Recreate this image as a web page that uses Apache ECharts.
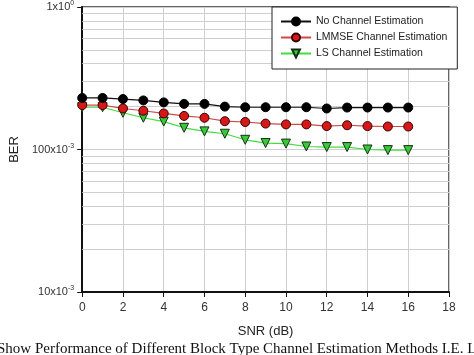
<!DOCTYPE html>
<html>
<head>
    <meta charset="utf-8">
    <title>BER vs SNR</title>
    <script src="https://cdn.jsdelivr.net/npm/echarts@6/dist/echarts.min.js"></script>
    <style>
        html, body { margin: 0; padding: 0; background: #fff; }
        #main { width: 474px; height: 355px; }
    </style>
</head>
<body>
<div id="main"></div>
<script>
// SNR values (dB)
const snr = [0, 1, 2, 3, 4, 5, 6, 7, 8, 9, 10, 11, 12, 13, 14, 15, 16];

// BER
const noEst = [0.230, 0.230, 0.226, 0.221, 0.214, 0.209, 0.209, 0.200, 0.198, 0.198, 0.198, 0.198, 0.194, 0.197, 0.197, 0.197, 0.197];
const lmmse = [0.205, 0.205, 0.194, 0.187, 0.179, 0.172, 0.167, 0.158, 0.156, 0.152, 0.150, 0.150, 0.146, 0.148, 0.146, 0.145, 0.145];
const lsEst = [0.198, 0.198, 0.181, 0.167, 0.157, 0.142, 0.134, 0.129, 0.117, 0.111, 0.110, 0.105, 0.104, 0.104, 0.100, 0.099, 0.099];

// y tick labels: mantissa x 10^exp
const yTickValues = [1, 0.1, 0.01];
const yTickMant = ['1', '100', '10'];
const yTickExp = ['0', '-3', '-3'];

// minor log grid lines
const minorGrid = [0.02, 0.03, 0.04, 0.05, 0.06, 0.07, 0.08, 0.09,
                   0.2, 0.3, 0.4, 0.5, 0.6, 0.7, 0.8, 0.9];

const chart = echarts.init(document.getElementById('main'));

const pair = arr => snr.map((x, i) => [x, arr[i]]);

chart.setOption({
    animation: false,
    textStyle: { fontFamily: 'Liberation Sans, Arial, sans-serif' },
    grid: {
        left: 78, top: 6, right: 25, bottom: 63,
        show: true, borderColor: '#333', borderWidth: 1.5
    },
    title: {
        text: 'Show Performance of Different Block Type Channel Estimation Methods I.E. LS',
        left: -8, top: 337,
        textStyle: { fontFamily: 'Liberation Serif, Times New Roman, serif', fontSize: 15, fontWeight: 'normal', color: '#111' }
    },
    legend: {
        left: 272, top: 7, orient: 'vertical',
        padding: [9, 10, 10, 8],
        itemGap: 5,
        itemWidth: 30, itemHeight: 10,
        backgroundColor: '#fff', borderColor: '#222', borderWidth: 1,
        textStyle: { fontSize: 10.5, color: '#222' },
        z: 20,
        data: ['No Channel Estimation', 'LMMSE Channel Estimation', 'LS Channel Estimation']
    },
    xAxis: {
        type: 'value', min: 0, max: 18, interval: 2,
        name: 'SNR (dB)', nameLocation: 'middle', nameGap: 33,
        nameTextStyle: { fontSize: 13, color: '#222' },
        axisLine: { lineStyle: { color: '#111', width: 2 } },
        axisTick: { show: true, length: 5, lineStyle: { color: '#111' } },
        axisLabel: { fontSize: 12, color: '#333', margin: 10 },
        splitLine: { show: true, lineStyle: { color: '#cfcfcf' } }
    },
    yAxis: {
        type: 'log', logBase: 10, min: 0.01, max: 1,
        name: 'BER', nameLocation: 'middle', nameGap: 47,
        nameTextStyle: { fontSize: 13, color: '#222' },
        axisLine: { lineStyle: { color: '#111', width: 2 } },
        axisTick: { show: true, length: 5, lineStyle: { color: '#111' } },
        axisLabel: {
            color: '#333', margin: 8,
            formatter: v => {
                const i = yTickValues.findIndex(t => Math.abs(Math.log10(t) - Math.log10(v)) < 1e-6);
                if (i < 0) return '';
                return '{m|' + yTickMant[i] + 'x10}{e|' + yTickExp[i] + '}';
            },
            rich: {
                m: { fontSize: 11, color: '#333' },
                e: { fontSize: 7, color: '#333', verticalAlign: 'bottom', padding: [0, 0, 7, 0] }
            }
        },
        splitLine: { show: true, lineStyle: { color: '#cfcfcf' } }
    },
    series: [
        {
            name: 'No Channel Estimation', type: 'line', data: pair(noEst),
            symbol: 'circle', symbolSize: 9,
            lineStyle: { color: '#111', width: 1.2 },
            itemStyle: { color: '#000', borderColor: '#000', borderWidth: 1 },
            markLine: {
                silent: true, symbol: 'none', label: { show: false },
                lineStyle: { color: '#cfcfcf', type: 'solid', width: 1 },
                z: 1,
                data: minorGrid.map(v => ({ yAxis: v }))
            },
            z: 5
        },
        {
            name: 'LMMSE Channel Estimation', type: 'line', data: pair(lmmse),
            symbol: 'circle', symbolSize: 9,
            lineStyle: { color: '#d04848', width: 1.2 },
            itemStyle: { color: '#d81818', borderColor: '#300', borderWidth: 1 },
            z: 4
        },
        {
            name: 'LS Channel Estimation', type: 'line', data: pair(lsEst),
            symbol: 'triangle', symbolRotate: 180, symbolSize: 9,
            lineStyle: { color: '#3ede3e', width: 1.2 },
            itemStyle: { color: '#38c838', borderColor: '#143014', borderWidth: 1 },
            z: 3
        }
    ]
});
</script>
</body>
</html>
